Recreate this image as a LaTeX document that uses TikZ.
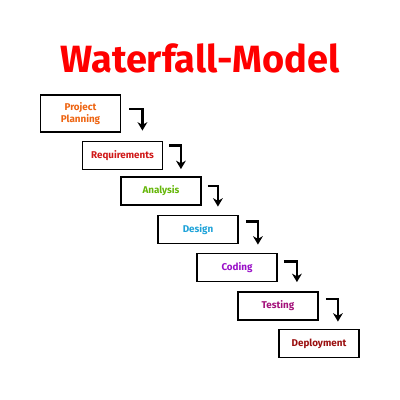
\documentclass[tikz,border=0pt]{standalone}
\usepackage{fontspec}
\setmainfont{Fira Sans}
\usetikzlibrary{arrows.meta,calc}
\definecolor{plancol}{HTML}{EE6411}
\definecolor{reqcol}{HTML}{D01818}
\definecolor{anacol}{HTML}{66B70A}
\definecolor{descol}{HTML}{1FA3D9}
\definecolor{codcol}{HTML}{9A10C8}
\definecolor{tstcol}{HTML}{A3107A}
\definecolor{depcol}{HTML}{9A0F0F}
\tikzset{
  phase/.style={draw=black,line width=1.3pt,fill=white,minimum width=2cm,minimum height=0.7cm,
    inner sep=1pt,align=center,font=\fontsize{7}{8}\selectfont\bfseries},
  flow/.style={line width=2pt,-{Stealth[length=6pt,width=7pt]}}
}
\begin{document}
\begin{tikzpicture}[x=0.025cm,y=-0.025cm]
\useasboundingbox[fill=white] (0,0) rectangle (400,400);
\node[text=red,font=\fontsize{27}{30}\selectfont\bfseries] (title) at (200,58) {Waterfall-Model};
\node[phase,text=plancol,minimum height=0.93cm] (plan) at (80.5,113.5) {Project\\Planning};
\node[phase,text=reqcol] (req) at (122.5,155.5) {Requirements};
\node[phase,text=anacol] (ana) at (161,191) {Analysis};
\node[phase,text=descol] (des) at (198,229.5) {Design};
\node[phase,text=codcol] (cod) at (237,267.5) {Coding};
\node[phase,text=tstcol] (tst) at (278,306) {Testing};
\node[phase,text=depcol] (dep) at (319,343.5) {Deployment};
% steps down
\draw[flow] ($(plan.north east)+(8,15)$) -| ($(req.north east)+(-21,-10)$);
\draw[flow] ($(req.north east)+(6,5)$) -| ($(ana.north east)+(-21,-7)$);
\draw[flow] ($(ana.north east)+(6,10)$) -| ($(des.north east)+(-21,-8)$);
\draw[flow] ($(des.north east)+(7,7)$) -| ($(cod.north east)+(-20,-8)$);
\draw[flow] ($(cod.north east)+(6,9)$) -| ($(tst.north east)+(-22,-9)$);
\draw[flow] ($(tst.north east)+(7,8)$) -| ($(dep.north east)+(-22,-7)$);
\end{tikzpicture}
\end{document}
